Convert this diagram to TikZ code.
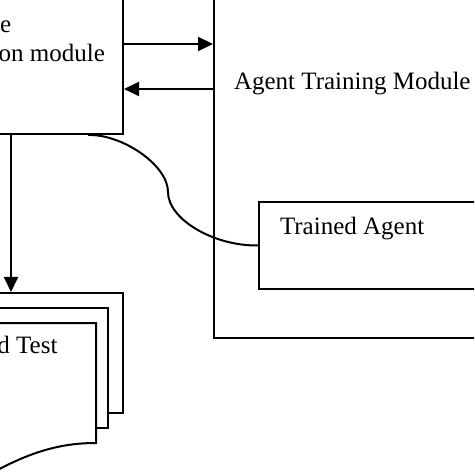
\documentclass[tikz,border=0pt]{standalone}
\usepackage{fontspec}
\setmainfont{Liberation Serif}
\usetikzlibrary{arrows.meta}
\begin{document}
\begin{tikzpicture}[x=0.5pt,y=-0.5pt,line width=1pt,
  >={Triangle[length=7.5pt,width=7pt]},
  box/.style={draw,rectangle,inner sep=0pt,fill=white},
  lbl/.style={inner sep=0pt,anchor=base west,font=\fontsize{12.5}{15}\selectfont}]
\useasboundingbox (0,0) rectangle (474,474);
\clip (0,0) rectangle (474,474);
% modules
\node[box,minimum width=66.5pt,minimum height=72pt] (kb) at (56.5,62) {};
\node[box,minimum width=138pt,minimum height=174pt] (atm) at (352,164) {};
\node[box,minimum width=115.5pt,minimum height=43.5pt] (ta) at (374.5,245.5) {};
\node[lbl] (kbtop) at (-1,33) {e};
\node[lbl] (kbbot) at (-2.4,62) {on module};
\node[lbl] (atmtxt) at (233,90) {Agent Training Module};
\node[lbl] (tatxt) at (279,235) {Trained Agent};
% document stack
\node[box,minimum width=66.5pt,minimum height=60pt] (doc3) at (56.5,353) {};
\node[box,minimum width=59pt,minimum height=60pt] (doc2) at (49,368) {};
\draw[fill=white] (-10,323) -- (96,323) -- (96,443)
  .. controls (60,443) and (30,452) .. (-10,474) -- cycle;
\node[lbl] (doctxt) at (-3.6,353) {d Test};
% connectors
\coordinate (ya) at (0,44);
\coordinate (yb) at (0,89);
\coordinate (xd) at (11,0);
\coordinate (xc) at (88,0);
\draw[->] (kb.east |- ya) -- (atm.west |- ya);
\draw[->] (atm.west |- yb) -- (kb.east |- yb);
\draw[->] (kb.south -| xd) -- (doc3.north -| xd);
\draw (kb.south -| xc) .. controls (122,134) and (168,165) .. (168,192)
  .. controls (168,219) and (213,246) .. (ta.west);
\end{tikzpicture}
\end{document}
